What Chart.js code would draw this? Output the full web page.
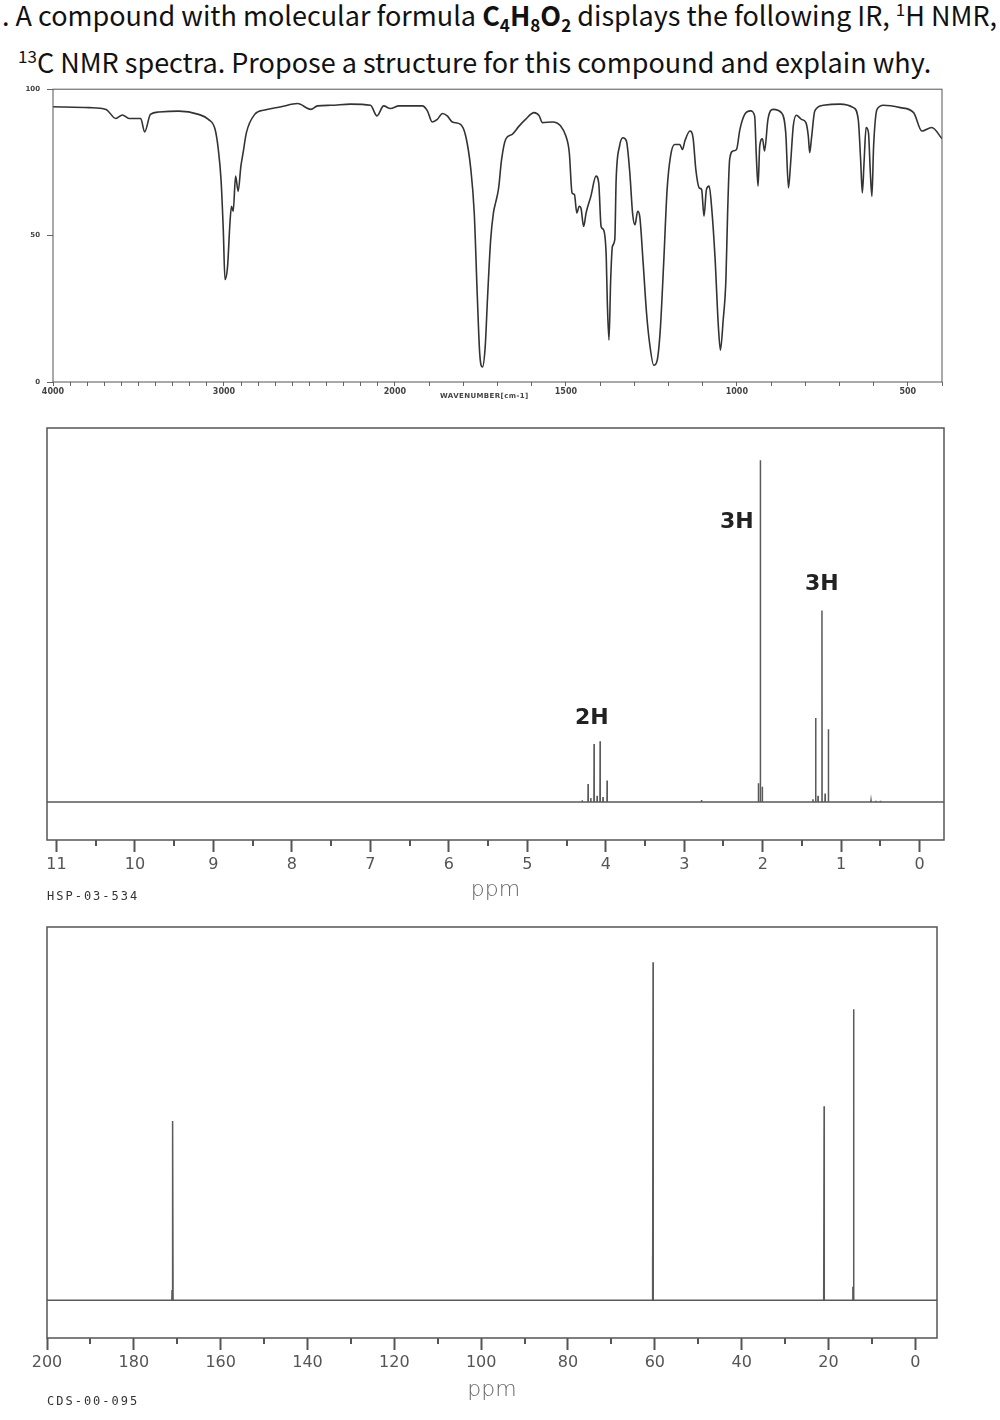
<!DOCTYPE html>
<html>
<head>
<meta charset="utf-8">
<script src="https://cdn.jsdelivr.net/npm/chart.js@4.4.1/dist/chart.umd.min.js"></script>
<style>
  html, body { margin: 0; padding: 0; background: #fff; }
  body { width: 1000px; height: 1420px; position: relative; overflow: hidden; }
  .q { position: absolute; font-family: "Noto Sans CJK KR", "Noto Sans", sans-serif; font-size: 27px;
       line-height: 27px; color: #111; white-space: nowrap; }
  .q sub, .q sup { font-size: 17px; line-height: 0; }
  canvas { position: absolute; left: 0; }
  .code { position: absolute; left: 47px; font: 12px "DejaVu Sans Mono", monospace; letter-spacing: 2px;
          line-height: 12px; color: #333; }
  .mult { position: absolute; font: bold 22px "DejaVu Sans", sans-serif; line-height: 22px; color: #222; }
  .irlab { position: absolute; left: 440px; top: 393px; font: bold 7px "DejaVu Sans", sans-serif;
           line-height: 7px; color: #444; letter-spacing: 0.4px; }
</style>
</head>
<body>
<div class="q" style="left:2px;top:1px">. A compound with molecular formula <b>C<sub>4</sub>H<sub>8</sub>O<sub>2</sub></b> displays the following IR, <sup>1</sup>H NMR,</div>
<div class="q" style="left:18px;top:48px"><sup>13</sup>C NMR spectra. Propose a structure for this compound and explain why.</div>

<canvas id="ir" width="1000" height="337" style="top:78px"></canvas>
<div class="irlab">WAVENUMBER[cm-1]</div>

<canvas id="hnmr" width="1000" height="490" style="top:420px"></canvas>
<div class="mult" style="left:575px;top:706px">2H</div>
<div class="mult" style="left:720px;top:510px">3H</div>
<div class="mult" style="left:805px;top:572px">3H</div>
<div class="code" style="top:890px">HSP-03-534</div>

<canvas id="cnmr" width="1000" height="490" style="top:920px"></canvas>
<div class="code" style="top:1395px">CDS-00-095</div>

<script>
// ---- IR: wavenumber (cm-1) vs %T ----
const IR_WN = [4000, 3787, 3690, 3633, 3594, 3555, 3487, 3464, 3430, 3381, 3265, 3149, 3091, 3052, 3033,
  3017, 3004, 2994, 2979, 2965, 2956, 2946, 2932, 2917, 2901, 2888, 2869, 2820, 2762, 2666, 2569, 2492,
  2453, 2375, 2260, 2143, 2105, 2066, 2027, 1988, 1920, 1905, 1891, 1876, 1861, 1847, 1832, 1808, 1793,
  1778, 1768, 1759, 1752, 1744, 1736, 1729, 1720, 1712, 1705, 1697, 1688, 1676, 1657, 1637, 1618, 1593,
  1578, 1569, 1539, 1515, 1500, 1490, 1482, 1475, 1468, 1461, 1456, 1448, 1441, 1427, 1412, 1404, 1397,
  1390, 1382, 1379, 1374, 1369, 1364, 1357, 1353, 1343, 1333, 1323, 1313, 1305, 1298, 1290, 1284, 1274,
  1264, 1255, 1243, 1233, 1224, 1214, 1204, 1194, 1182, 1167, 1159, 1152, 1137, 1128, 1120, 1110, 1103,
  1096, 1089, 1081, 1074, 1064, 1054, 1048, 1040, 1032, 1027, 1021, 1011, 1001, 991, 977, 960, 948, 943,
  938, 933, 925, 919, 909, 894, 870, 857, 849, 843, 835, 826, 811, 798, 791, 787, 782, 772, 747, 698,
  659, 645, 638, 633, 628, 622, 615, 610, 605, 600, 590, 571, 522, 483, 459, 430, 400];
const IR_T = [94, 93.7, 93.1, 90, 91.2, 90, 90, 85.4, 91.4, 92.2, 92.5, 91.4, 89.7, 86.3, 79.4,
  69, 52, 35, 39.4, 54.3, 60, 58.3, 70.3, 65.1, 73.7, 78.3, 85.1, 91.4, 92.9, 94, 95.1, 93.1,
  94.3, 94.5, 94.9, 94.5, 90.9, 94.3, 93.4, 94.3, 94.3, 92.6, 88.8, 89.7, 91.7, 90.9, 88.8, 88, 84,
  72.6, 57.7, 29.1, 9.7, 5.1, 12, 29.1, 48.6, 57.7, 61.5, 66, 76, 82.9, 84.6, 87.4, 89.7, 92,
  90.9, 88.6, 88.8, 87.4, 84, 78.3, 64.6, 64, 57.7, 60, 59.4, 53.1, 57.7, 63.4, 70.3, 68, 53.1,
  52, 42.9, 28, 14.3, 34.9, 46.3, 48.6, 69.1, 80.6, 83.4, 82.3, 71.4, 57.7, 53.7, 58.3, 56.6, 40.6,
  23.4, 13.1, 5.7, 7.4, 17.7, 40.6, 65.7, 77.1, 81.1, 81.1, 79.4, 82.3, 85.7, 83.4, 72.6, 66.3, 65.7,
  56.6, 65.7, 66.9, 60, 42.9, 18.9, 10.9, 21.1, 34.9, 57.7, 76, 78.9, 79.4, 86.3, 91.4, 92.6, 90.9, 77.1,
  66.9, 80.6, 83.1, 78.9, 89.7, 93.1, 92, 85.1, 66.3, 74.3, 87.4, 91.1, 89.7, 88.6, 84, 78.3, 82.9, 92.6, 94.5, 94.9,
  93.7, 89.7, 76, 64.6, 74.9, 86.9, 85.1, 72.6, 63.4, 80.6, 93.1, 94.5, 93.7, 92, 85.7, 86.9, 83.1];
const IR_LABELED = [4000, 3000, 2000, 1500, 1000, 500];
const IR_Y_TICKS = [0, 50, 100];
const IR_BREAK = 2000;   // the chart doubles its scale below 2000 cm-1

// ---- 1H NMR: [ppm, relative height] ----
const H_PEAKS = [
  [4.30, 0.5], [4.225, 5.3], [4.19, 1.2], [4.149, 17.0], [4.11, 1.8], [4.072, 17.8], [4.035, 1.5], [3.983, 6.3],
  [2.78, 0.6], [2.055, 5.5], [2.03, 100], [2.005, 4.5],
  [1.36, 0.8], [1.325, 24.6], [1.295, 1.8], [1.245, 56.0], [1.205, 2.5], [1.163, 21.3],
  [0.62, 0.4], [0.56, 0.4], [0.50, 0.4]];
const H_TICKS = [11, 10, 9, 8, 7, 6, 5, 4, 3, 2, 1, 0];
const H_MINOR = [10.5, 9.5, 8.5, 7.5, 6.5, 5.5, 4.5, 3.5, 2.5, 1.5, 0.5];

// ---- 13C NMR: [ppm, relative height] ----
const C_PEAKS = [[171.0, 53.0], [171.2, 3], [60.4, 100], [60.55, 13], [21.0, 57.4], [21.15, 3.3],
  [14.2, 86.1], [14.4, 4]];
const C_TICKS = [200, 180, 160, 140, 120, 100, 80, 60, 40, 20, 0];
const C_MINOR = [190, 170, 150, 130, 110, 90, 70, 50, 30, 10];

const GRAY = "#555", LINE = "#5a5a5a";

// Piecewise wavenumber axis: 4000-2000 at half the scale of 2000-400.
class WaveScale extends Chart.LinearScale {
  static id = "wavenumber";
  static defaults = {};
  pos(v) { return v >= IR_BREAK ? (this.max - v) / 2 : (this.max - IR_BREAK) / 2 + (IR_BREAK - v); }
  getPixelForValue(v) { return this.left + this.width * this.pos(v) / this.pos(this.min); }
  getValueForPixel(px) {
    const p = (px - this.left) / this.width * this.pos(this.min), half = (this.max - IR_BREAK) / 2;
    return p <= half ? this.max - 2 * p : IR_BREAK - (p - half);
  }
}
Chart.register(WaveScale);

const frame = {
  id: "frame",
  afterDatasetsDraw(chart, args, o) {
    const { ctx, chartArea: a } = chart;
    ctx.save();
    ctx.strokeStyle = o.color || GRAY; ctx.lineWidth = o.width || 1;
    ctx.strokeRect(a.left, a.top, a.right - a.left, a.bottom - a.top);
    ctx.restore();
  }
};

// short unlabeled ticks between the labeled ones
const minorTicks = {
  id: "minorTicks",
  afterDraw(chart, args, o) {
    if (!o.values) return;
    const x = chart.scales.x, ctx = chart.ctx;
    ctx.save();
    ctx.strokeStyle = o.color; ctx.lineWidth = o.width;
    ctx.beginPath();
    o.values.forEach(v => { const px = Math.round(x.getPixelForValue(v)); ctx.moveTo(px, x.top); ctx.lineTo(px, x.top + o.length); });
    ctx.stroke();
    ctx.restore();
  }
};

function spectrum(peaks, lo, hi, hw) {
  const pts = [{ x: hi, y: 0 }];
  peaks.slice().sort((a, b) => b[0] - a[0]).forEach(([ppm, h]) => {
    pts.push({ x: ppm + hw, y: 0 }, { x: ppm, y: h }, { x: ppm - hw, y: 0 });
  });
  pts.push({ x: lo, y: 0 });
  return pts;
}

// IR
const irTicks = [];
for (let w = 4000; w >= 400; w -= 100) irTicks.push(w);
new Chart(document.getElementById("ir"), {
  type: "line",
  data: { datasets: [{ data: IR_WN.map((w, i) => ({ x: w, y: IR_T[i] })), borderColor: "#333",
    borderWidth: 1.6, pointRadius: 0, cubicInterpolationMode: "monotone", fill: false }] },
  options: {
    responsive: false, animation: false, events: [],
    layout: { padding: { top: 5, right: 58, left: 0, bottom: 0 } },
    plugins: { legend: { display: false }, tooltip: { enabled: false }, frame: { color: "#555", width: 1 } },
    scales: {
      x: { type: "wavenumber", min: 400, max: 4000,
        afterBuildTicks: s => { s.ticks = irTicks.map(v => ({ value: v })); },
        afterFit: s => { s.height = 33; },
        grid: { drawOnChartArea: false, tickLength: 4, tickColor: "#666" }, border: { display: false },
        ticks: { autoSkip: false, maxRotation: 0, padding: 1, color: "#444",
          font: { family: "DejaVu Sans", size: 8, weight: "bold" },
          callback: v => IR_LABELED.includes(v) ? String(v) : "" } },
      y: { min: 0, max: 100,
        afterBuildTicks: s => { s.ticks = IR_Y_TICKS.map(v => ({ value: v })); },
        afterFit: s => { s.width = 53; },
        grid: { drawOnChartArea: false, tickLength: 6, tickColor: "#666" }, border: { display: false },
        ticks: { padding: 7, color: "#444", font: { family: "DejaVu Sans", size: 7, weight: "bold" } } }
    }
  },
  plugins: [frame]
});

function nmrChart(id, peaks, xmin, xmax, hw, ymin, ymax, major, minor, pad, axisH) {
  return new Chart(document.getElementById(id), {
    type: "line",
    data: { datasets: [{ data: spectrum(peaks, xmin, xmax, hw), borderColor: LINE, borderWidth: 1.5,
      pointRadius: 0, tension: 0, fill: false }] },
    options: {
      responsive: false, animation: false, events: [],
      layout: { padding: pad },
      plugins: { legend: { display: false }, tooltip: { enabled: false },
        frame: { color: GRAY, width: 1.5 },
        minorTicks: { values: minor, length: 6, width: 2, color: GRAY } },
      scales: {
        x: { type: "linear", reverse: true, min: xmin, max: xmax,
          afterBuildTicks: s => { s.ticks = major.map(v => ({ value: v })); },
          afterFit: s => { s.height = axisH; },
          grid: { drawOnChartArea: false, tickLength: 12, tickWidth: 2, tickColor: GRAY },
          border: { display: false },
          ticks: { autoSkip: false, maxRotation: 0, padding: 3, color: "#555",
            font: { family: "DejaVu Sans", size: 16 } },
          title: { display: true, text: "ppm", color: "#666", padding: { top: 0, bottom: 7 },
            font: { family: "DejaVu Sans", size: 22, weight: "200" } } },
        y: { display: false, min: ymin, max: ymax }
      }
    },
    plugins: [frame, minorTicks]
  });
}

nmrChart("hnmr", H_PEAKS, -0.31, 11.12, 0.002, -11.1, 109.4, H_TICKS, H_MINOR,
  { top: 8, right: 56, left: 47, bottom: 0 }, 70);
nmrChart("cnmr", C_PEAKS, -5, 200, 0.04, -11.2, 110.4, C_TICKS, C_MINOR,
  { top: 7, right: 63, left: 47, bottom: 0 }, 72);
</script>
</body>
</html>
